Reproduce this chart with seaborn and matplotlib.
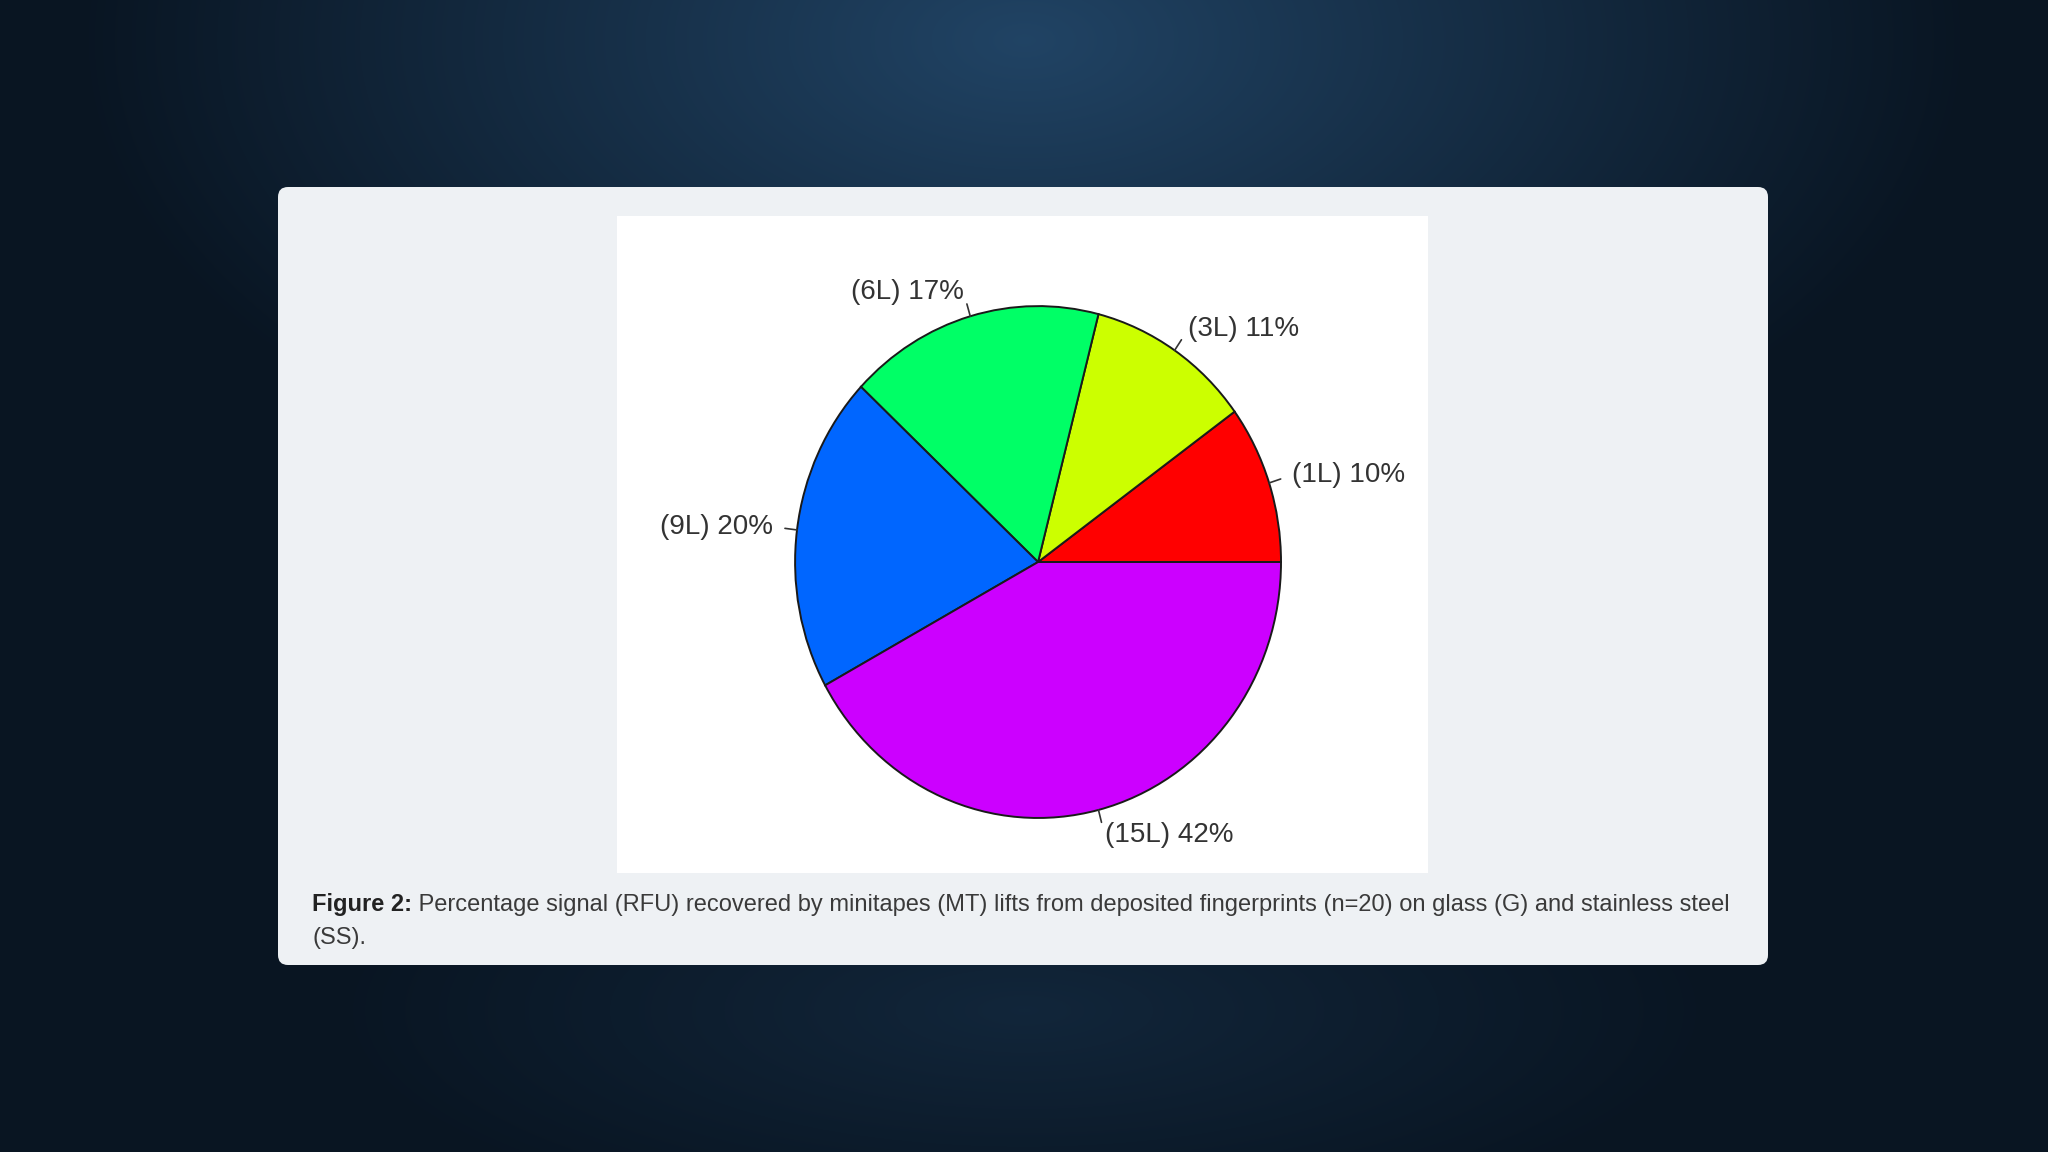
import numpy as np
import matplotlib
matplotlib.use("Agg")
import matplotlib.pyplot as plt
import seaborn as sns
from matplotlib.patches import FancyBboxPatch, Rectangle

# ---- data ----
categories = ["(1L)", "(3L)", "(6L)", "(9L)", "(15L)"]
percent = [10, 11, 17, 20, 42]
colors = ["#FF0000", "#CCFF00", "#00FF66", "#0066FF", "#CC00FF"]
caption_bold = "Figure 2:"
caption_rest = (" Percentage signal (RFU) recovered by minitapes (MT) lifts from deposited "
                "fingerprints (n=20) on glass (G) and stainless steel")
caption_line2 = "(SS)."

sns.set_theme(style="white")
plt.rcParams['font.family'] = ['Liberation Sans', 'DejaVu Sans']

W, H = 2048, 1152
fig = plt.figure(figsize=(W / 100, H / 100), dpi=100)

# ---- background (dark navy slide) ----
bg = fig.add_axes([0, 0, 1, 1])
yy, xx = np.mgrid[0:H, 0:W]
d1 = np.sqrt(((xx - 1024) / 950) ** 2 + ((yy - 40) / 520) ** 2)
d2 = np.sqrt(((xx - 1024) / 700) ** 2 + ((yy - 1010) / 230) ** 2)
t = np.clip(1 - d1, 0, 1) * 0.95 + np.clip(1 - d2, 0, 1) * 0.35
dark = np.array([9, 21, 34]) / 255
light = np.array([34, 70, 104]) / 255
img = dark + (light - dark) * np.clip(t, 0, 1)[..., None]
bg.imshow(img, extent=[0, W, H, 0], aspect='auto')
bg.set_xlim(0, W)
bg.set_ylim(H, 0)
bg.axis('off')

panel = FancyBboxPatch((278, 187), 1490, 778, boxstyle="round,pad=0,rounding_size=10",
                       facecolor="#eef1f4", edgecolor="none")
bg.add_patch(panel)
bg.add_patch(Rectangle((617, 216), 811, 657, facecolor="white", edgecolor="none"))

# ---- caption ----
renderer = fig.canvas.get_renderer()
fs0 = 15
t1 = bg.text(312, 905, caption_bold, fontsize=fs0, fontweight='bold', color="#222222",
             ha='left', va='center')
t2 = bg.text(312, 905, caption_rest, fontsize=fs0, color="#3a3a3a", ha='left', va='center')
w1 = t1.get_window_extent(renderer).width
w2 = t2.get_window_extent(renderer).width
fs = fs0 * 1420 / (w1 + w2)
t1.set_fontsize(fs)
t2.set_fontsize(fs)
w1 = t1.get_window_extent(renderer).width
t2.set_x(312 + w1)
bg.text(312, 938, caption_line2, fontsize=fs, color="#3a3a3a", ha='left', va='center')

# ---- pie ----
ax = fig.add_axes([617 / W, (H - 873) / H, 811 / W, 657 / H])
ax.pie(percent, colors=colors, startangle=0, counterclock=True, radius=1,
       wedgeprops=dict(edgecolor="#1a1a1a", linewidth=1.4))
ax.set_aspect('auto')
ax.set_xlim(-1.733, 1.605)
ax.set_ylim(-1.215, 1.352)
ax.axis('off')

total = float(sum(percent))
cum = 0.0
for cat, p in zip(categories, percent):
    mid = 2 * np.pi * (cum + p / 2) / total
    cum += p
    c, s = np.cos(mid), np.sin(mid)
    ax.plot([c, 1.05 * c], [s, 1.05 * s], color="#333333", lw=1.2)
    ax.text(1.1 * c, 1.1 * s, f"{cat} {p}%", fontsize=20, color="#333333",
            ha='left' if c > 0 else 'right', va='center')

fig.savefig("out.png", dpi=100)
